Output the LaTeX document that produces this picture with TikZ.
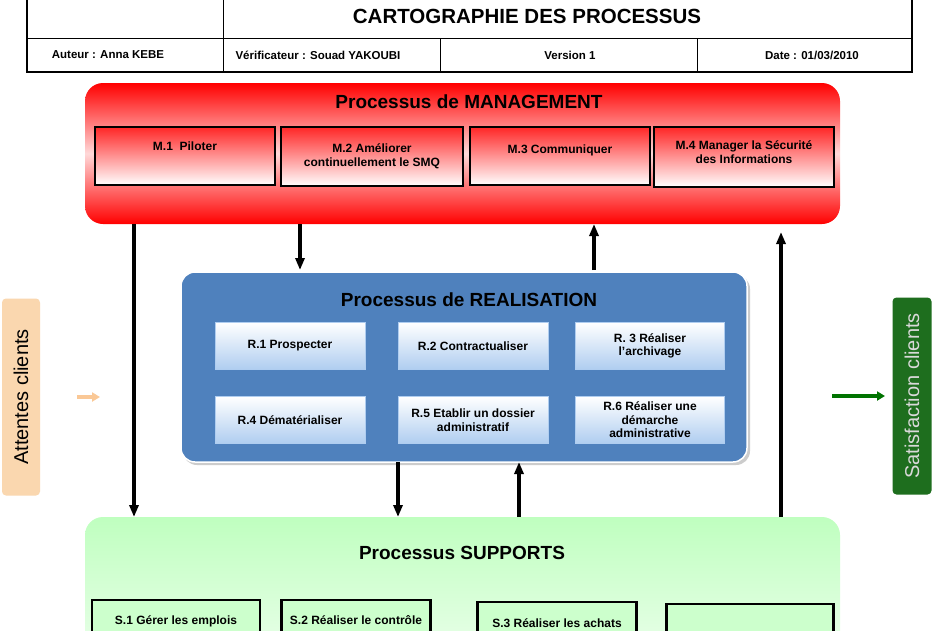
\documentclass[tikz,border=0pt]{standalone}
\usepackage{fontspec}
\setmainfont{Liberation Sans}
\usetikzlibrary{arrows.meta,shadows}
\definecolor{orangeL}{RGB}{250,215,175}
\definecolor{orangeA}{RGB}{250,200,150}
\definecolor{greenD}{RGB}{30,110,30}
\definecolor{blueR}{RGB}{79,129,189}
\definecolor{blueB}{RGB}{175,205,240}
\begin{document}
\begin{tikzpicture}[x=1pt,y=-1pt,
 cell/.style={font=\bfseries\fontsize{11.5}{13}\selectfont,align=center},
 mbox/.style={draw=black,line width=2.2pt,top color=red!85,bottom color=white,font=\bfseries\fontsize{12}{14}\selectfont,align=center,inner sep=0pt},
 rbox/.style={draw=blueB,line width=0.8pt,top color=white,bottom color=blueB,font=\bfseries\fontsize{12}{13.5}\selectfont,align=center,inner sep=0pt},
 sbox/.style={draw=black,line width=2.2pt,fill=green!20,font=\bfseries\fontsize{12}{14}\selectfont,align=center,inner sep=0pt},
 ptitle/.style={font=\bfseries\fontsize{19}{21}\selectfont},
 flow/.style={line width=3.5pt,-{Triangle[length=12pt,width=9pt]}}]
\useasboundingbox (0,0) rectangle (945,630);
\fill[white] (0,0) rectangle (945,630);
% header
\draw[line width=1.6pt] (27,-3) rectangle (912,72);
\draw[line width=1pt] (27,38) -- (912,38) (223,-3) -- (223,72) (440,38)--(440,72) (697,38)--(697,72);
\node[font=\bfseries\fontsize{20.5}{22}\selectfont] (title) at (527,16) {CARTOGRAPHIE DES PROCESSUS};
\node[cell] (aut) at (108,55) {Auteur : Anna KEBE};
\node[cell] (ver) at (318,55) {Vérificateur : Souad YAKOUBI};
\node[cell] (vers) at (570,55) {Version 1};
\node[cell] (date) at (812,55) {Date : 01/03/2010};
% management
\shade[rounded corners=18pt,top color=red,bottom color=red,middle color=red!15] (85,83) rectangle (840,224);
\node[ptitle] (mt) at (469,102) {Processus de MANAGEMENT};
\node[mbox,minimum width=180pt,minimum height=58pt] (m1) at (185,156) {M.1\ \ Piloter\\[6pt]};
\node[mbox,minimum width=182pt,minimum height=59pt] (m2) at (372,156.5) {M.2 Améliorer\\continuellement le SMQ};
\node[mbox,minimum width=180pt,minimum height=58pt] (m3) at (560,156) {M.3 Communiquer\\[0pt]};
\node[mbox,minimum width=180pt,minimum height=60pt] (m4) at (744,157) {M.4 Manager la Sécurité\\des Informations\\[-4pt]};
% realisation
\fill[rounded corners=14pt,gray!40] (183,275) rectangle (750,465);
\draw[rounded corners=14pt,draw=white,line width=1.5pt,fill=blueR] (181,272) rectangle (747,462);
\node[ptitle] (rt) at (469,300) {Processus de REALISATION};
\node[rbox,minimum width=150pt,minimum height=47pt] (r1) at (290,346) {R.1 Prospecter};
\node[rbox,minimum width=150pt,minimum height=47pt] (r2) at (473,346) {R.2 Contractualiser};
\node[rbox,minimum width=149pt,minimum height=47pt] (r3) at (650,346) {R. 3 Réaliser\\l'archivage};
\node[rbox,minimum width=150pt,minimum height=47pt] (r4) at (290,420) {R.4 Dématérialiser};
\node[rbox,minimum width=150pt,minimum height=47pt] (r5) at (473,420) {R.5 Etablir un dossier\\administratif};
\node[rbox,minimum width=149pt,minimum height=47pt] (r6) at (650,420) {R.6 Réaliser une\\démarche\\administrative};
% supports
\shade[rounded corners=18pt,top color=green!25,bottom color=green!8] (85,517) rectangle (840,660);
\node[ptitle] (st) at (462,553) {Processus SUPPORTS};
\node[sbox,minimum width=168pt,minimum height=60pt] (s1) at (176,630) {S.1 Gérer les emplois\\[6pt]};
\node[sbox,minimum width=149pt,minimum height=60pt] (s2) at (356,630) {S.2 Réaliser le contrôle\\[6pt]};
\node[sbox,minimum width=159pt,minimum height=60pt] (s3) at (557,632) {S.3 Réaliser les achats\\[4pt]};
\node[sbox,minimum width=167pt,minimum height=60pt] (s4) at (750,634) {};
% side boxes
\node[fill=orangeL,rounded corners=4pt,minimum width=197pt,minimum height=38pt,rotate=90,font=\fontsize{20}{22}\selectfont] (att) at (21,397) {Attentes clients};
\node[fill=greenD,text=white!85!black,rounded corners=4pt,minimum width=197pt,minimum height=39pt,rotate=90,font=\fontsize{20}{22}\selectfont] (sat) at (912,396) {Satisfaction clients};
\coordinate (a1) at (77,397); \coordinate (a2) at (100,397);
\draw[line width=3.5pt,orangeA,-{Triangle[length=8pt,width=9pt]}] (a1) -- (a2);
\coordinate (g1) at (832,396); \coordinate (g2) at (885,396);
\draw[line width=3.5pt,green!45!black,-{Triangle[length=8pt,width=9pt]}] (g1) -- (g2);
% flows
\draw[flow] (134,224) -- (134,517);
\draw[flow] (300,224) -- (300,270);
\draw[flow] (594,270) -- (594,224);
\draw[flow] (781,517) -- (781,232);
\draw[flow] (398,462) -- (398,517);
\draw[flow] (519,517) -- (519,462);
\end{tikzpicture}
\end{document}
